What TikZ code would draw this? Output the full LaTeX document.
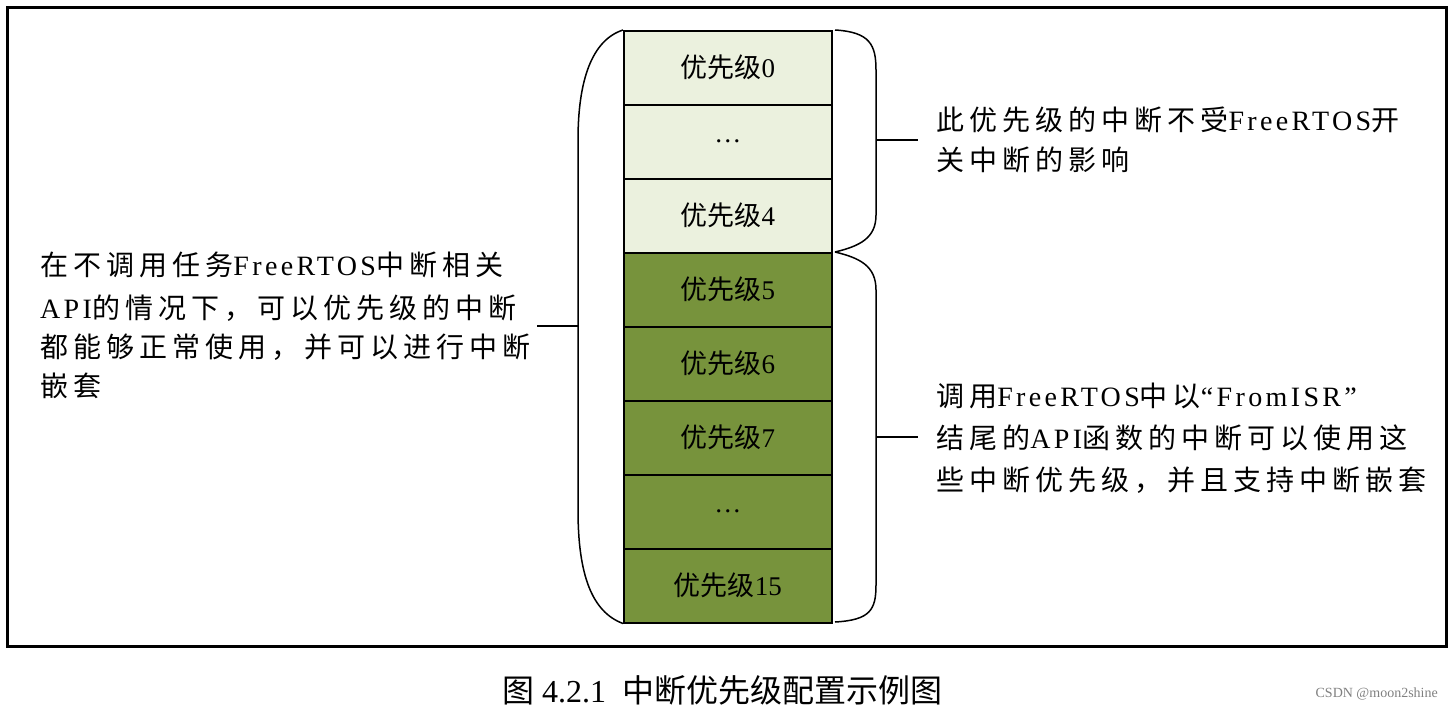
\documentclass[tikz,border=0pt]{standalone}
\usepackage{fontspec}
\setmainfont{Liberation Serif}
\newfontfamily\cjk{Noto Sans CJK SC}
\newfontfamily\cjkw[LetterSpace=18]{Noto Sans CJK SC}
\newfontfamily\latw[LetterSpace=12]{Liberation Serif}
\newcommand{\zh}[1]{{\cjk #1}}
\newcommand{\zw}[1]{{\cjkw #1}}
\definecolor{lightg}{HTML}{EBF1DE}
\definecolor{darkg}{HTML}{77933C}
\begin{document}
\begin{tikzpicture}[x=1pt,y=-1pt,
  cell/.style={draw=black,line width=1.5pt,minimum width=208pt,minimum height=74pt,inner sep=0pt,anchor=north west,font=\fontsize{27}{30}\selectfont},
  txt/.style={anchor=west,inner sep=0pt,font=\fontsize{28}{30}\selectfont\latw},
  br/.style={line width=1.5pt}]
\useasboundingbox (0,0) rectangle (1453,710);
\draw[line width=3pt] (7,7) rectangle (1446,646);
\node[cell,fill=lightg] (c0) at (623,30) {\zh{优先级}0};
\node[cell,fill=lightg] (c1) at (623,104) {…};
\node[cell,fill=lightg] (c2) at (623,178) {\zh{优先级}4};
\node[cell,fill=darkg] (c3) at (623,252) {\zh{优先级}5};
\node[cell,fill=darkg] (c4) at (623,326) {\zh{优先级}6};
\node[cell,fill=darkg] (c5) at (623,400) {\zh{优先级}7};
\node[cell,fill=darkg] (c6) at (623,474) {…};
\node[cell,fill=darkg] (c7) at (623,548) {\zh{优先级}15};
% left brace
\coordinate (lt) at (537,326);
\draw[br] (c0.north west) .. controls (592,40) and (578,80) .. (578,140) -- (578,510) .. controls (578,575) and (592,612) .. (c7.south west);
\draw[br] (578,326) -- (lt);
% right braces
\coordinate (rt1) at (918,140);
\coordinate (rt2) at (918,437);
\draw[br] (835,30) .. controls (870,32) and (876,45) .. (876,70) -- (876,215) .. controls (876,238) and (860,246) .. (835,252);
\draw[br] (876,140) -- (rt1);
\draw[br] (835,252) .. controls (860,258) and (876,266) .. (876,290) -- (876,585) .. controls (876,610) and (870,620) .. (835,622);
\draw[br] (876,437) -- (rt2);
% texts
\node[txt] (l1) at (40,265) {\zw{在不调用任务}FreeRTOS\zw{中断相关}};
\node[txt] (l2) at (40,308) {API\zw{的情况下，可以优先级的中断}};
\node[txt] (l3) at (40,347) {\zw{都能够正常使用，并可以进行中断}};
\node[txt] (l4) at (40,386) {\zw{嵌套}};
\node[txt] (r1) at (936,120) {\zw{此优先级的中断不受}FreeRTOS\zw{开}};
\node[txt] (r2) at (936,160) {\zw{关中断的影响}};
\node[txt] (r3) at (936,396) {\zw{调用}FreeRTOS\zw{中以}“FromISR”};
\node[txt] (r4) at (936,438) {\zw{结尾的}API\zw{函数的中断可以使用这}};
\node[txt] (r5) at (936,480) {\zw{些中断优先级，并且支持中断嵌套}};
\node[inner sep=0pt,font=\fontsize{32}{34}\selectfont] (cap) at (722,690) {\zh{图} 4.2.1\ \ \zh{中断优先级配置示例图}};
\node[anchor=east,inner sep=0pt,text=gray,font=\fontsize{14}{16}\selectfont] (wm) at (1438,694) {CSDN @moon2shine};
\end{tikzpicture}
\end{document}
